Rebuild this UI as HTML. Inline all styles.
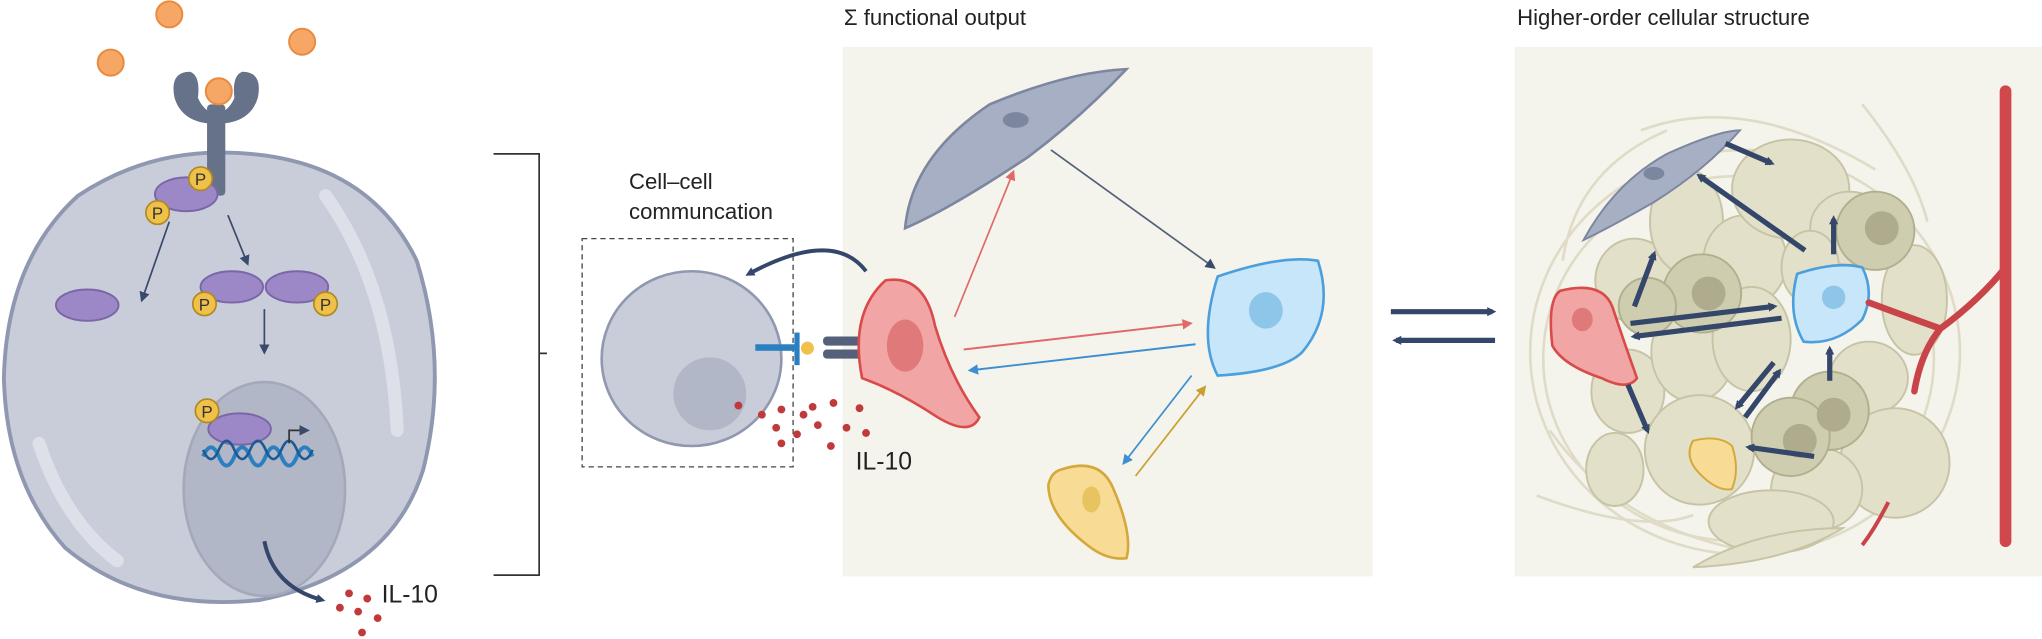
<!DOCTYPE html>
<html><head><style>html,body{margin:0;padding:0;background:#fff}svg{display:block}</style></head>
<body>
<svg width="2042" height="639" viewBox="0 0 1568 490" preserveAspectRatio="none" xmlns="http://www.w3.org/2000/svg" font-family="Liberation Sans, sans-serif">
<defs>
<marker id="ad" markerWidth="8" markerHeight="8" refX="6" refY="4" orient="auto" markerUnits="userSpaceOnUse"><path d="M0,0 L8,4 L0,8 Z" fill="#3a4a6b"/></marker>
<marker id="ar" markerWidth="8" markerHeight="8" refX="6" refY="4" orient="auto" markerUnits="userSpaceOnUse"><path d="M0,0 L8,4 L0,8 Z" fill="#e06a6a"/></marker>
<marker id="ab" markerWidth="8" markerHeight="8" refX="6" refY="4" orient="auto" markerUnits="userSpaceOnUse"><path d="M0,0 L8,4 L0,8 Z" fill="#3c8fd0"/></marker>
<marker id="ay" markerWidth="8" markerHeight="8" refX="6" refY="4" orient="auto" markerUnits="userSpaceOnUse"><path d="M0,0 L8,4 L0,8 Z" fill="#c9a030"/></marker>
<marker id="aD" markerWidth="7" markerHeight="7" refX="4" refY="3.5" orient="auto" markerUnits="userSpaceOnUse"><path d="M0,0 L7,3.5 L0,7 Z" fill="#34466a"/></marker>
</defs>

<!-- Left big cell -->
<path d="M169,117 Q280,117 320,200 Q345,280 325,360 Q300,440 200,460 Q110,470 50,420 Q5,370 3,290 Q5,200 60,150 Q110,117 169,117Z" fill="#c9cdd9" stroke="#8f98b0" stroke-width="3"/>
<path d="M250,150 Q300,220 305,330" stroke="#dde0e8" stroke-width="10" fill="none" stroke-linecap="round"/>
<path d="M30,340 Q50,400 90,430" stroke="#dde0e8" stroke-width="10" fill="none" stroke-linecap="round"/>
<ellipse cx="203" cy="375" rx="62" ry="82" fill="#b2b7c7" stroke="#a3a9bb" stroke-width="2"/>
<rect x="159" y="80" width="14" height="70" fill="#66728a" rx="3"/>
<path d="M166,95 Q140,95 134,75 Q130,55 146,55 Q154,58 152,75 Q156,85 166,88 Q176,85 180,75 Q178,58 186,55 Q202,55 198,75 Q192,95 166,95Z" fill="#66728a"/>
<g fill="#f7a765" stroke="#e88a3f" stroke-width="1.5">
<circle cx="130" cy="11" r="10"/><circle cx="232" cy="32" r="10"/><circle cx="85" cy="48" r="10"/><circle cx="168" cy="70" r="10"/></g>
<g fill="#9c88c6" stroke="#7a66a8" stroke-width="1.5">
<ellipse cx="143" cy="149" rx="24" ry="13"/><ellipse cx="67" cy="234" rx="24" ry="12"/>
<ellipse cx="178" cy="220" rx="24" ry="12"/><ellipse cx="228" cy="220" rx="24" ry="12"/><ellipse cx="184" cy="329" rx="24" ry="12"/></g>
<g fill="#f0c14a" stroke="#b08a20" stroke-width="1.3">
<circle cx="154" cy="137" r="9"/><circle cx="121" cy="163" r="9"/><circle cx="157" cy="233" r="9"/><circle cx="250" cy="233" r="9"/><circle cx="159" cy="315" r="9"/></g>
<g font-size="13" fill="#333" text-anchor="middle"><text x="154" y="142">P</text><text x="121" y="168">P</text><text x="157" y="238">P</text><text x="250" y="238">P</text><text x="159" y="320">P</text></g>
<g stroke="#3a4a6b" stroke-width="1.3" marker-end="url(#ad)">
<line x1="130" y1="170" x2="109" y2="230"/><line x1="175" y1="165" x2="190" y2="202"/><line x1="203" y1="237" x2="203" y2="270"/></g>
<path d="M156,350 q6,-14 12,0 t12,0 t12,0 t12,0 t12,0 t12,0 t12,0" stroke="#2a7fc0" stroke-width="3" fill="none"/>
<path d="M156,345 q6,14 12,0 t12,0 t12,0 t12,0 t12,0 t12,0 t12,0" stroke="#1b5a94" stroke-width="2" fill="none"/>
<path d="M222,340 v-10 h14" stroke="#333" stroke-width="1.3" fill="none" marker-end="url(#ad)"/>
<path d="M203,415 Q210,450 247,460" stroke="#34466a" stroke-width="3" fill="none" marker-end="url(#aD)"/>
<g fill="#c0393b"><circle cx="268" cy="455" r="3"/><circle cx="282" cy="459" r="3"/><circle cx="261" cy="466" r="3"/><circle cx="275" cy="469" r="3"/><circle cx="290" cy="474" r="3"/><circle cx="278" cy="485" r="3"/></g>
<text x="293" y="462" font-size="19" fill="#222">IL-10</text>

<path d="M379,118 H414 V441 H379 M414,271 H420" stroke="#333" stroke-width="1.3" fill="none"/>

<rect x="647" y="36" width="407" height="406" fill="#f4f3ec"/>
<rect x="1163" y="36" width="405" height="406" fill="#f4f3ec"/>
<text x="648" y="19" font-size="17" fill="#222">Σ functional output</text>
<text x="1165" y="19" font-size="17" fill="#222">Higher-order cellular structure</text>

<text x="483" y="145" font-size="17" fill="#222">Cell–cell</text>
<text x="483" y="168" font-size="17" fill="#222">communcation</text>
<rect x="447" y="183" width="162" height="175" fill="none" stroke="#444" stroke-width="1" stroke-dasharray="4,3"/>
<ellipse cx="531" cy="275" rx="69" ry="67" fill="#c9cdd9" stroke="#8f98b0" stroke-width="2"/>
<ellipse cx="545" cy="302" rx="28" ry="28" fill="#b2b7c7"/>
<path d="M665,208 Q640,175 575,210" stroke="#34466a" stroke-width="3" fill="none" marker-end="url(#aD)"/>
<rect x="580" y="264" width="32" height="5" fill="#2a7fc0"/><path d="M612,255 v25" stroke="#2a7fc0" stroke-width="4"/>
<circle cx="620" cy="267" r="5" fill="#f0c14a"/>
<rect x="632" y="258" width="30" height="7" rx="3" fill="#55607a"/><rect x="632" y="268" width="30" height="7" rx="3" fill="#55607a"/>
<g fill="#c0393b"><circle cx="567" cy="311" r="3"/><circle cx="585" cy="318" r="3"/><circle cx="600" cy="314" r="3"/><circle cx="617" cy="318" r="3"/><circle cx="640" cy="309" r="3"/><circle cx="660" cy="313" r="3"/><circle cx="596" cy="328" r="3"/><circle cx="612" cy="333" r="3"/><circle cx="628" cy="326" r="3"/><circle cx="650" cy="328" r="3"/><circle cx="665" cy="332" r="3"/><circle cx="600" cy="340" r="3"/><circle cx="638" cy="342" r="3"/><circle cx="624" cy="312" r="3"/></g>
<text x="657" y="360" font-size="19" fill="#222">IL-10</text>

<path d="M695,175 Q700,120 760,80 Q820,55 865,53 Q830,90 790,120 Q730,160 695,175Z" fill="#a6afc3" stroke="#7c869f" stroke-width="2"/>
<ellipse cx="780" cy="92" rx="10" ry="6" fill="#7c869f"/>
<path d="M680,215 Q710,210 718,250 Q730,290 752,320 Q745,335 720,320 Q690,300 662,290 Q652,240 680,215Z" fill="#f2a5a5" stroke="#d94a4a" stroke-width="2"/>
<ellipse cx="695" cy="265" rx="14" ry="20" fill="#e07a7a"/>
<path d="M935,212 Q985,195 1012,200 Q1025,240 1000,270 Q985,285 935,288 Q920,260 935,212Z" fill="#c8e6fa" stroke="#4a9fdc" stroke-width="2"/>
<ellipse cx="972" cy="238" rx="13" ry="14" fill="#8ec6ea"/>
<path d="M815,360 Q845,350 855,375 Q870,410 865,428 Q850,430 835,418 Q805,395 805,372 Q807,362 815,360Z" fill="#f8dc96" stroke="#d4a83a" stroke-width="2"/>
<ellipse cx="838" cy="383" rx="7" ry="10" fill="#e8c460"/>
<line x1="733" y1="243" x2="778" y2="132" stroke="#e06a6a" stroke-width="1.3" marker-end="url(#ar)"/>
<line x1="807" y1="115" x2="932" y2="205" stroke="#55607a" stroke-width="1.3" marker-end="url(#ad)"/>
<line x1="740" y1="268" x2="914" y2="248" stroke="#e06a6a" stroke-width="1.5" marker-end="url(#ar)"/>
<line x1="918" y1="264" x2="745" y2="284" stroke="#3c8fd0" stroke-width="1.5" marker-end="url(#ab)"/>
<line x1="915" y1="288" x2="863" y2="355" stroke="#3c8fd0" stroke-width="1.3" marker-end="url(#ab)"/>
<line x1="872" y1="365" x2="925" y2="297" stroke="#c9a030" stroke-width="1.3" marker-end="url(#ay)"/>

<line x1="1068" y1="239" x2="1146" y2="239" stroke="#34466a" stroke-width="4" marker-end="url(#aD)"/>
<line x1="1148" y1="261" x2="1072" y2="261" stroke="#34466a" stroke-width="4" marker-end="url(#aD)"/>

<!-- panel 2 -->
<g stroke="#ddd9c2" stroke-width="2" fill="none" opacity="0.9">
<ellipse cx="1340" cy="270" rx="165" ry="155"/><ellipse cx="1335" cy="275" rx="150" ry="140"/>
<path d="M1190,330 Q1240,400 1330,420"/><path d="M1260,100 Q1340,70 1440,130"/><path d="M1200,200 Q1210,130 1280,100"/>
<path d="M1180,380 Q1260,410 1300,395"/><path d="M1430,80 Q1470,130 1480,170"/></g>
<g fill="#e2e0c9" stroke="#c7c4a6" stroke-width="1.5">
<ellipse cx="1255" cy="215" rx="30" ry="32"/><ellipse cx="1250" cy="300" rx="28" ry="32"/>
<ellipse cx="1295" cy="170" rx="28" ry="40"/><ellipse cx="1340" cy="200" rx="32" ry="35"/><ellipse cx="1375" cy="145" rx="45" ry="38"/>
<ellipse cx="1420" cy="175" rx="30" ry="28"/><ellipse cx="1300" cy="270" rx="32" ry="38"/><ellipse cx="1345" cy="260" rx="30" ry="40"/>
<ellipse cx="1435" cy="290" rx="30" ry="28"/><ellipse cx="1470" cy="230" rx="25" ry="42"/>
<ellipse cx="1455" cy="355" rx="42" ry="42"/><ellipse cx="1305" cy="345" rx="42" ry="42"/><ellipse cx="1395" cy="375" rx="35" ry="32"/>
<ellipse cx="1360" cy="400" rx="48" ry="24"/><ellipse cx="1390" cy="205" rx="22" ry="28"/><ellipse cx="1240" cy="360" rx="22" ry="28"/>
<path d="M1300,435 Q1350,405 1415,405 Q1370,432 1300,435Z"/></g>
<g fill="#cfcdb0" stroke="#b2af8e" stroke-width="1.5">
<circle cx="1307" cy="225" r="30"/><circle cx="1440" cy="177" r="30"/><circle cx="1405" cy="315" r="30"/><circle cx="1375" cy="335" r="30"/><circle cx="1265" cy="235" r="22"/></g>
<g fill="#aeac8c"><circle cx="1312" cy="225" r="13"/><circle cx="1445" cy="175" r="13"/><circle cx="1408" cy="318" r="13"/><circle cx="1382" cy="338" r="13"/></g>
<path d="M1216,184 Q1240,140 1280,118 Q1320,100 1336,100 Q1310,130 1270,155 Q1235,175 1216,184Z" fill="#a6afc3" stroke="#7c869f" stroke-width="1.5"/>
<ellipse cx="1270" cy="133" rx="8" ry="5" fill="#7c869f"/>
<path d="M1198,223 Q1230,215 1238,235 Q1248,265 1257,290 Q1250,300 1230,290 Q1200,280 1192,265 Q1188,230 1198,223Z" fill="#f2a5a5" stroke="#d94a4a" stroke-width="2"/>
<ellipse cx="1215" cy="245" rx="8" ry="9" fill="#e07a7a"/>
<path d="M1380,210 Q1410,200 1430,205 Q1440,225 1430,245 Q1410,265 1385,262 Q1372,240 1380,210Z" fill="#c8e6fa" stroke="#4a9fdc" stroke-width="2"/>
<ellipse cx="1408" cy="228" rx="9" ry="9" fill="#8ec6ea"/>
<path d="M1300,338 Q1320,333 1330,342 Q1336,360 1330,375 Q1320,377 1308,366 Q1292,352 1300,338Z" fill="#f8dc96" stroke="#d4a83a" stroke-width="1.5"/>
<path d="M1435,232 Q1470,245 1490,252 Q1520,230 1540,205 M1490,252 Q1475,270 1470,300" stroke="#c84448" stroke-width="5" fill="none" stroke-linecap="round"/>
<path d="M1450,385 Q1440,405 1430,418" stroke="#c84448" stroke-width="3" fill="none"/>
<line x1="1540" y1="70" x2="1540" y2="415" stroke="#d0484c" stroke-width="9" stroke-linecap="round"/>
<g stroke="#34466a" stroke-width="4" fill="none" marker-end="url(#aD)">
<line x1="1255" y1="235" x2="1270" y2="195"/><line x1="1386" y1="192" x2="1305" y2="135"/><line x1="1325" y1="110" x2="1360" y2="125"/>
<line x1="1408" y1="195" x2="1408" y2="168"/><line x1="1252" y1="248" x2="1362" y2="235"/><line x1="1368" y1="244" x2="1255" y2="258"/>
<line x1="1362" y1="278" x2="1334" y2="312"/><line x1="1340" y1="320" x2="1366" y2="285"/><line x1="1405" y1="292" x2="1405" y2="268"/>
<line x1="1393" y1="350" x2="1343" y2="343"/><line x1="1250" y1="295" x2="1265" y2="330"/></g>
</svg>
</body></html>
